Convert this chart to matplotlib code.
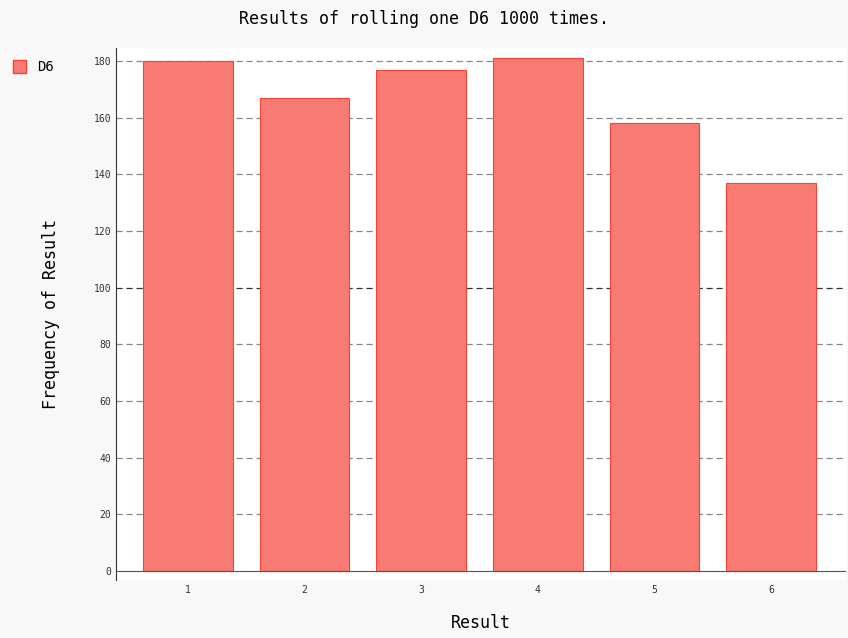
import matplotlib
matplotlib.use("Agg")
import matplotlib.pyplot as plt
from matplotlib.patches import Patch

results = [1, 2, 3, 4, 5, 6]
frequencies = [180, 167, 177, 181, 158, 137]
yticks = list(range(0, 181, 20))

plt.rcParams["font.family"] = "DejaVu Sans Mono"

fig = plt.figure(figsize=(8.48, 6.38), dpi=100, facecolor="#f8f8f8")
ax = fig.add_axes([116 / 848, 1 - 580 / 638, 730 / 848, 532 / 638])
ax.set_facecolor("white")

ax.bar(results, frequencies, width=0.77, color="#f77b72", edgecolor="#f44336",
       linewidth=0.8, zorder=3)

ax.set_xlim(0.383, 6.643)
ax.set_ylim(-3.2, 184.6)
ax.set_xticks(results)
ax.set_yticks(yticks)
ax.tick_params(labelsize=7, length=0, colors="#333333")
for y in yticks:
    if y == 0:
        continue
    ax.axhline(y, color="#333333" if y == 100 else "#888888",
               linestyle=(0, (5, 3)), linewidth=0.9, zorder=1)
ax.axhline(0, color="#555555", linewidth=0.8, zorder=4)

for s in ["top", "right", "bottom"]:
    ax.spines[s].set_visible(False)
ax.spines["left"].set_color("#333333")

ax.set_xlabel("Result", fontsize=12, labelpad=14)
ax.set_ylabel("Frequency of Result", fontsize=12, labelpad=24)
fig.suptitle("Results of rolling one D6 1000 times.", fontsize=12, y=0.985)

fig.legend(handles=[Patch(facecolor="#f77b72", edgecolor="#f44336", label="D6")],
           loc="upper left", bbox_to_anchor=(0.0, 0.925), frameon=False,
           fontsize=10, handlelength=1.0, handleheight=1.0)

fig.savefig("out.png", dpi=100, facecolor=fig.get_facecolor())
